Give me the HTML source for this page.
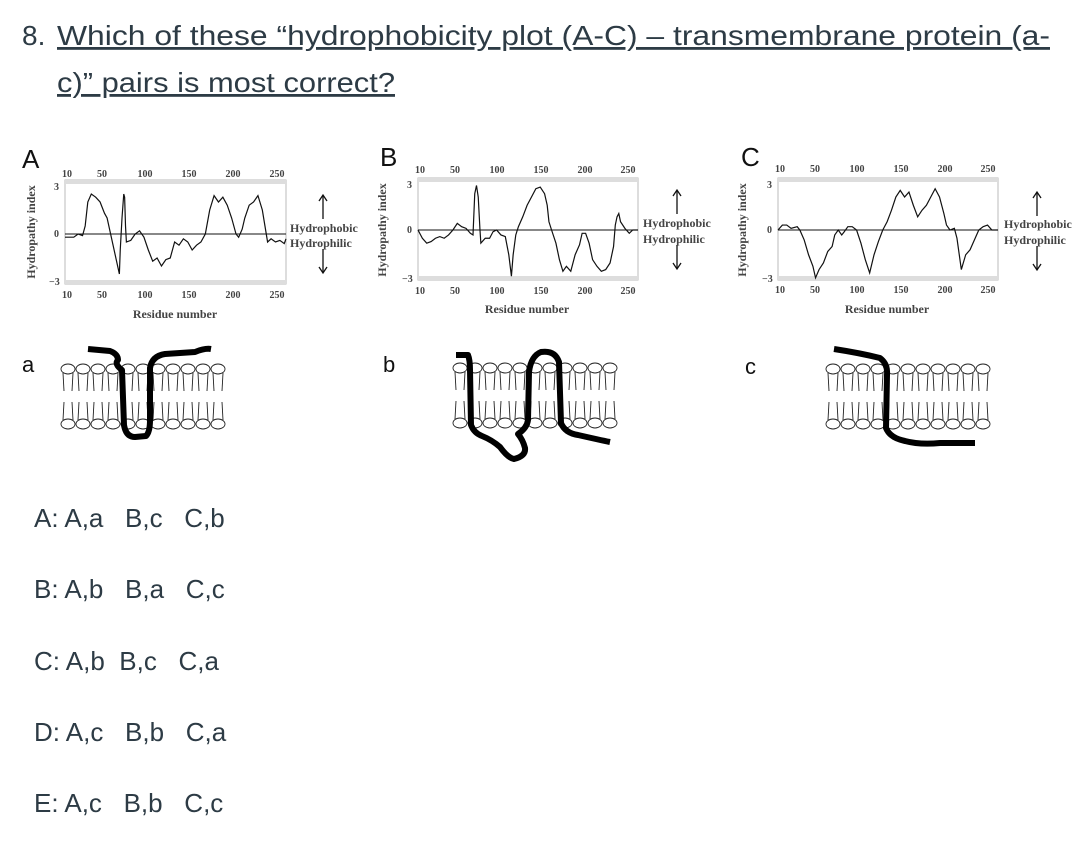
<!DOCTYPE html>
<html><head><meta charset="utf-8"><style>
body{margin:0;background:#fff;width:1086px;height:850px;overflow:hidden}
svg{position:absolute;left:0;top:0}
</style></head><body>
<svg width="1086" height="850" xmlns="http://www.w3.org/2000/svg">
<defs>
<g id="lip" fill="#fff" stroke="#222" stroke-width="0.9">
<line x1="-5" y1="4" x2="-4" y2="22"/><line x1="5" y1="4" x2="4" y2="22"/>
<line x1="-4" y1="33" x2="-5" y2="51"/><line x1="4" y1="33" x2="5" y2="51"/>
<ellipse cx="0" cy="0" rx="7" ry="5"/><ellipse cx="0" cy="55" rx="7" ry="5"/>
</g>
<g id="bil">
<use href="#lip" x="0"/><use href="#lip" x="15"/><use href="#lip" x="30"/><use href="#lip" x="45"/><use href="#lip" x="60"/><use href="#lip" x="75"/><use href="#lip" x="90"/><use href="#lip" x="105"/><use href="#lip" x="120"/><use href="#lip" x="135"/><use href="#lip" x="150"/>
</g>
<g id="arr" stroke="#111" stroke-width="1.3" fill="none">
<line x1="0" y1="0" x2="0" y2="24"/><path d="M-4,6 L0,0 L4,6"/>
</g>
<g id="arrd" stroke="#111" stroke-width="1.3" fill="none">
<line x1="0" y1="0" x2="0" y2="24"/><path d="M-4,18 L0,24 L4,18"/>
</g>
</defs>
<g font-family="Liberation Sans, sans-serif" fill="#2d3b45" font-size="28">
<text x="22" y="45">8.</text>
<text x="57" y="45" text-decoration="underline" textLength="993" lengthAdjust="spacingAndGlyphs">Which of these “hydrophobicity plot (A-C) – transmembrane protein (a-</text>
<text x="57" y="92" text-decoration="underline" textLength="338" lengthAdjust="spacingAndGlyphs">c)” pairs is most correct?</text>
<g font-size="26">
<text x="34" y="527">A: A,a &#160;&#160;B,c &#160;&#160;C,b</text>
<text x="34" y="598">B: A,b &#160;&#160;B,a &#160;&#160;C,c</text>
<text x="34" y="670">C: A,b &#160;B,c &#160;&#160;C,a</text>
<text x="34" y="741">D: A,c &#160;&#160;B,b &#160;&#160;C,a</text>
<text x="34" y="812">E: A,c &#160;&#160;B,b &#160;&#160;C,c</text>
</g>
</g>
<g font-family="Liberation Sans, sans-serif" fill="#111">
<text x="22" y="168" font-size="26">A</text>
<text x="380" y="166" font-size="26">B</text>
<text x="741" y="166" font-size="26">C</text>
<text x="22" y="372" font-size="22">a</text>
<text x="383" y="372" font-size="22">b</text>
<text x="745" y="374" font-size="22">c</text>
</g>

<!-- Plot A -->
<g font-family="Liberation Serif, serif" font-size="10" fill="#444" font-weight="bold">
<rect x="65" y="180" width="221" height="104" fill="none" stroke="#bbb"/>
<rect x="65" y="180" width="221" height="4" fill="#ddd"/><rect x="65" y="280" width="221" height="4" fill="#ddd"/>
<line x1="65" y1="234" x2="286" y2="234" stroke="#111" stroke-width="1"/>
<g text-anchor="middle"><text x="67" y="177">10</text><text x="102" y="177">50</text><text x="145" y="177">100</text><text x="189" y="177">150</text><text x="233" y="177">200</text><text x="277" y="177">250</text>
<text x="67" y="298">10</text><text x="102" y="298">50</text><text x="145" y="298">100</text><text x="189" y="298">150</text><text x="233" y="298">200</text><text x="277" y="298">250</text>
<text x="175" y="318" font-size="12">Residue number</text></g>
<text x="54" y="190">3</text><text x="54" y="237">0</text><text x="49" y="285">−3</text>
<text transform="translate(35,232) rotate(-90)" text-anchor="middle" font-size="12">Hydropathy index</text>
<text x="290" y="232" font-size="12">Hydrophobic</text><text x="290" y="247" font-size="12">Hydrophilic</text>
<use href="#arr" x="323" y="195"/><use href="#arrd" x="323" y="249"/>
<polyline transform="translate(65,234) scale(0.877,-16) translate(-10,0)" vector-effect="non-scaling-stroke" fill="none" stroke="#111" stroke-width="1.2" points="10,-0.2 20,-0.2 25,0 30,-0.1 33,0.5 36,2 40,2.5 45,2.3 50,2 55,1.3 58,1 62,0 66,-1 70,-2 72,-2.5 73,-1 75,1 77,2.5 78,2.3 79,0.5 80,-0.5 85,-0.4 90,0 95,0.2 100,-0.2 105,-1 110,-1.7 115,-1.5 120,-2 125,-1.6 130,-1.5 135,-0.5 140,-0.7 145,-0.3 150,-0.5 155,-1 160,-0.7 165,-0.5 170,0 175,1.5 180,2.4 185,2 190,2.3 195,1.8 200,1 205,0 208,-0.2 212,0.3 215,1 220,1.8 225,2 230,2.4 235,1.5 238,0.5 241,-0.5 245,-0.3 250,-0.5 255,-0.4 260,-0.6 262,-0.3"/>
</g>

<!-- Plot B -->
<g font-family="Liberation Serif, serif" font-size="10" fill="#444" font-weight="bold">
<rect x="418" y="178" width="220" height="102" fill="none" stroke="#bbb"/>
<rect x="418" y="178" width="220" height="4" fill="#ddd"/><rect x="418" y="276" width="220" height="4" fill="#ddd"/>
<line x1="418" y1="230" x2="638" y2="230" stroke="#111" stroke-width="1"/>
<g text-anchor="middle"><text x="420" y="173">10</text><text x="455" y="173">50</text><text x="497" y="173">100</text><text x="541" y="173">150</text><text x="585" y="173">200</text><text x="628" y="173">250</text>
<text x="420" y="294">10</text><text x="455" y="294">50</text><text x="497" y="294">100</text><text x="541" y="294">150</text><text x="585" y="294">200</text><text x="628" y="294">250</text>
<text x="527" y="313" font-size="12">Residue number</text></g>
<text x="407" y="188">3</text><text x="407" y="233">0</text><text x="402" y="282">−3</text>
<text transform="translate(386,230) rotate(-90)" text-anchor="middle" font-size="12">Hydropathy index</text>
<text x="643" y="227" font-size="12">Hydrophobic</text><text x="643" y="243" font-size="12">Hydrophilic</text>
<use href="#arr" x="677" y="190"/><use href="#arrd" x="677" y="245"/>
<polyline transform="translate(418,230) scale(0.873,-16.5) translate(-10,0)" vector-effect="non-scaling-stroke" fill="none" stroke="#111" stroke-width="1.2" points="10,0 15,-0.5 20,-0.8 25,-0.7 30,-0.5 35,-0.4 40,-0.5 45,-0.3 50,0 55,0.4 60,0.2 65,0.1 70,-0.2 73,-0.3 75,2.2 77,2.7 79,2 81,0 82,-0.8 87,-0.5 92,-0.5 96,-0.1 100,0 105,-0.3 110,-0.4 114,-1.5 117,-2.8 119,-1.5 122,-0.3 125,0.2 130,0.8 135,1.5 140,2 145,2.5 150,2.6 155,2.2 158,1.5 160,0.5 163,0 168,-0.8 172,-1.8 176,-2.5 180,-2.2 185,-2.5 190,-1.5 195,-0.9 198,-0.2 202,-0.2 206,-0.8 210,-1.8 215,-2.2 220,-2.5 225,-2.4 230,-2 234,-1 236,0.3 238,0.8 240,1 242,0.5 247,0.1 252,-0.2 256,0 262,0"/>
</g>

<!-- Plot C -->
<g font-family="Liberation Serif, serif" font-size="10" fill="#444" font-weight="bold">
<rect x="778" y="178" width="220" height="102" fill="none" stroke="#bbb"/>
<rect x="778" y="178" width="220" height="4" fill="#ddd"/><rect x="778" y="276" width="220" height="4" fill="#ddd"/>
<line x1="778" y1="230" x2="998" y2="230" stroke="#111" stroke-width="1"/>
<g text-anchor="middle"><text x="780" y="172">10</text><text x="815" y="172">50</text><text x="857" y="172">100</text><text x="901" y="172">150</text><text x="945" y="172">200</text><text x="988" y="172">250</text>
<text x="780" y="293">10</text><text x="815" y="293">50</text><text x="857" y="293">100</text><text x="901" y="293">150</text><text x="945" y="293">200</text><text x="988" y="293">250</text>
<text x="887" y="313" font-size="12">Residue number</text></g>
<text x="767" y="188">3</text><text x="767" y="233">0</text><text x="762" y="282">−3</text>
<text transform="translate(746,230) rotate(-90)" text-anchor="middle" font-size="12">Hydropathy index</text>
<text x="1004" y="228" font-size="12">Hydrophobic</text><text x="1004" y="244" font-size="12">Hydrophilic</text>
<use href="#arr" x="1037" y="192"/><use href="#arrd" x="1037" y="246"/>
<polyline transform="translate(778,230) scale(0.873,-16.5) translate(-10,0)" vector-effect="non-scaling-stroke" fill="none" stroke="#111" stroke-width="1.2" points="10,0 15,0.3 20,0.3 25,0.1 32,0.2 35,0 40,-0.6 45,-1.5 50,-2.2 53,-2.9 57,-2.4 62,-2 67,-1.3 72,-1 75,-0.3 79,0 83,-0.3 86,-0.1 90,0.2 95,0.2 100,0 105,-0.8 110,-1.8 115,-2.6 120,-1.5 125,-0.7 130,0 135,0.5 140,1.2 145,2 150,2.4 155,2 160,2.3 165,1.5 170,0.8 175,1.2 180,1.5 185,2 190,2.5 195,2 200,1 203,0.3 207,0 212,0.1 215,-0.5 220,-2.4 225,-1.5 230,-1.2 235,-0.6 240,0 245,0.2 250,0.3 255,0 262,0"/>
</g>

<!-- Membranes -->
<use href="#bil" x="68" y="369"/>
<use href="#bil" x="460" y="368"/>
<use href="#bil" x="833" y="369"/>
<g fill="none" stroke="#000" stroke-width="6" stroke-linejoin="round" stroke-linecap="butt">
<path d="M88,349 L110,351 Q118,354 118,360 Q114,364 122,370 L124,425 Q126,437 135,437 L146,436 Q150,432 150,420 L150,368 Q152,356 165,354 L195,352 Q205,348 211,349"/>
<path d="M456,355 L468,355 Q470,360 470,370 L471,425 Q474,433 482,436 Q492,440 500,447 Q508,458 514,459 Q526,456 525,448 Q523,440 518,434 Q527,428 528,420 L529,372 Q531,356 541,352 Q555,350 559,362 L561,423 Q565,433 578,435 Q600,440 610,442"/>
<path d="M834,349 Q860,353 880,358 Q888,364 887,375 L886,428 Q890,438 905,441 Q920,445 940,443 L975,443"/>
</g>
</svg>
</body></html>
